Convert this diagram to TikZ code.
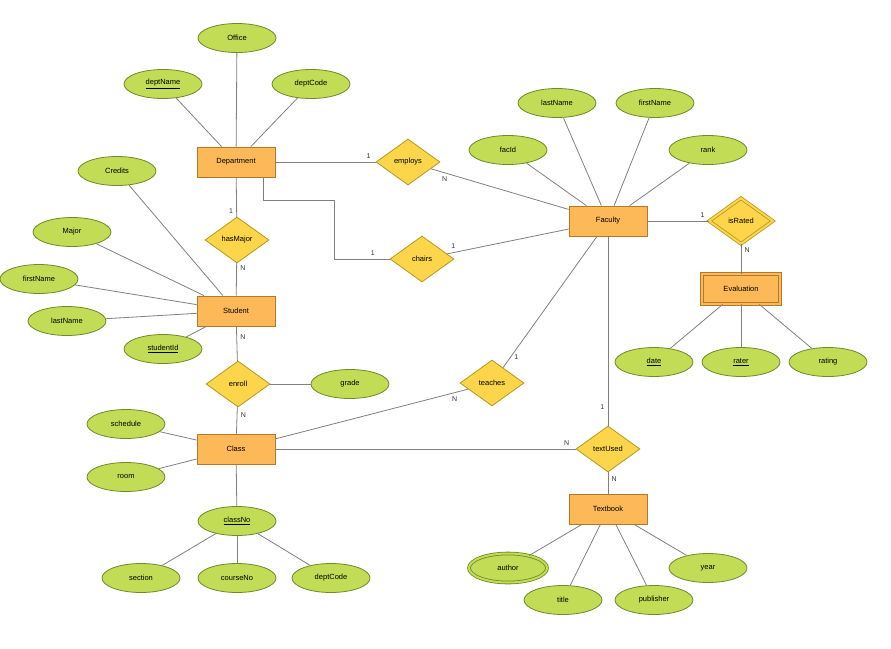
\documentclass[tikz,border=0pt]{standalone}
\usepackage{fontspec}
\setmainfont{Liberation Sans}
\usetikzlibrary{shapes.geometric,shapes.misc}
\definecolor{entf}{HTML}{FDB957}
\definecolor{entd}{HTML}{B07A2A}
\definecolor{relf}{HTML}{FDD54A}
\definecolor{reld}{HTML}{B09A20}
\definecolor{attf}{HTML}{C3DC55}
\definecolor{attd}{HTML}{6E8A2A}
\definecolor{ln}{HTML}{808080}
\begin{document}
\begin{tikzpicture}[x=1pt,y=-1pt,font=\fontsize{7.5}{9}\selectfont,
 ent/.style={draw=entd,fill=entf,thick,minimum width=78pt,minimum height=30pt,inner sep=0pt},
 went/.style={ent,double=entf,double distance=2.5pt},
 rel/.style={diamond,draw=reld,fill=relf,thick,minimum width=64pt,minimum height=46pt,inner sep=0pt,aspect=1.4},
 wrel/.style={rel,double=relf,double distance=2pt},
 att/.style={ellipse,draw=attd,fill=attf,thick,minimum width=78pt,minimum height=29pt,inner sep=0pt},
 watt/.style={att,double=attf,double distance=2pt},
 e/.style={draw=ln,thick},
 c/.style={font=\fontsize{7}{8}\selectfont,text=black!80}]
\useasboundingbox (0,0) rectangle (891,648);
% entities
\node[ent] (dept) at (236,162) {Department};
\node[ent] (fac) at (608,221) {Faculty};
\node[ent] (stu) at (236,311) {Student};
\node[ent] (cls) at (236,449) {Class};
\node[ent] (tb) at (608,509) {Textbook};
\node[went] (ev) at (741,289) {Evaluation};
% relationships
\node[rel] (emp) at (408,162) {employs};
\node[rel] (chr) at (422,259) {chairs};
\node[rel] (hm) at (237,240) {hasMajor};
\node[wrel] (ir) at (741,221) {isRated};
\node[rel] (enr) at (238,384) {enroll};
\node[rel] (tch) at (492,383) {teaches};
\node[rel] (tu) at (608,449) {textUsed};
% attributes
\node[att] (office) at (237,38) {Office};
\node[att] (dname) at (163,84) {\underline{deptName}};
\node[att] (dcode) at (311,84) {deptCode};
\node[att] (flast) at (557,103) {lastName};
\node[att] (ffirst) at (655,103) {firstName};
\node[att] (fid) at (508,150) {facId};
\node[att] (rank) at (708,150) {rank};
\node[att] (cred) at (117,171) {Credits};
\node[att] (major) at (72,232) {Major};
\node[att] (sfirst) at (39,279) {firstName};
\node[att] (slast) at (67,321) {lastName};
\node[att] (sid) at (163,349) {\underline{studentId}};
\node[att] (grade) at (350,384) {grade};
\node[att] (sched) at (126,424) {schedule};
\node[att] (room) at (126,477) {room};
\node[att] (cno) at (237,521) {\underline{classNo}};
\node[att] (sect) at (141,578) {section};
\node[att] (cour) at (237,578) {courseNo};
\node[att] (cdc) at (331,578) {deptCode};
\node[att] (date) at (654,362) {\underline{date}};
\node[att] (rater) at (741,362) {\underline{rater}};
\node[att] (rating) at (828,362) {rating};
\node[watt] (auth) at (508,568) {author};
\node[att] (title) at (563,600) {title};
\node[att] (pub) at (654,600) {publisher};
\node[att] (year) at (708,568) {year};
% attribute edges
\begin{scope}[on background layer/.style={}]
\end{scope}
\foreach \a/\b in {office/dept,dname/dept,dcode/dept,flast/fac,ffirst/fac,fid/fac,rank/fac,cred/stu,major/stu,sfirst/stu,slast/stu,sid/stu,grade/enr,sched/cls,room/cls,cno/cls,sect/cno,cour/cno,cdc/cno,date/ev,rater/ev,rating/ev,auth/tb,title/tb,pub/tb,year/tb}
  \draw[e] (\a) -- (\b);
% relationship edges
\draw[e] (dept) -- node[c,pos=0.93,above]{1} (emp);
\draw[e] (emp) -- node[c,pos=0.1,below]{N} (fac);
\draw[e] (dept.south east)++(-12,0) |- (334,200) |- node[c,pos=0.85,above]{1} (chr);
\draw[e] (chr) -- node[c,pos=0.05,above]{1} (fac);
\draw[e] (dept) -- node[c,pos=0.85,left]{1} (hm);
\draw[e] (hm) -- node[c,pos=0.15,right]{N} (stu);
\draw[e] (fac) -- node[c,pos=0.9,above]{1} (ir);
\draw[e] (ir) -- node[c,pos=0.2,right]{N} (ev);
\draw[e] (stu) -- node[c,pos=0.3,right]{N} (enr);
\draw[e] (enr) -- node[c,pos=0.3,right]{N} (cls);
\draw[e] (cls) -- node[c,pos=0.93,below]{N} (tch);
\draw[e] (tch) -- node[c,pos=0.08,right]{1} (fac);
\draw[e] (fac) -- node[c,pos=0.9,left]{1} (tu);
\draw[e] (cls) -- node[c,pos=0.97,above]{N} (tu);
\draw[e] (tu) -- node[c,pos=0.3,right]{N} (tb);
\end{tikzpicture}
\end{document}
